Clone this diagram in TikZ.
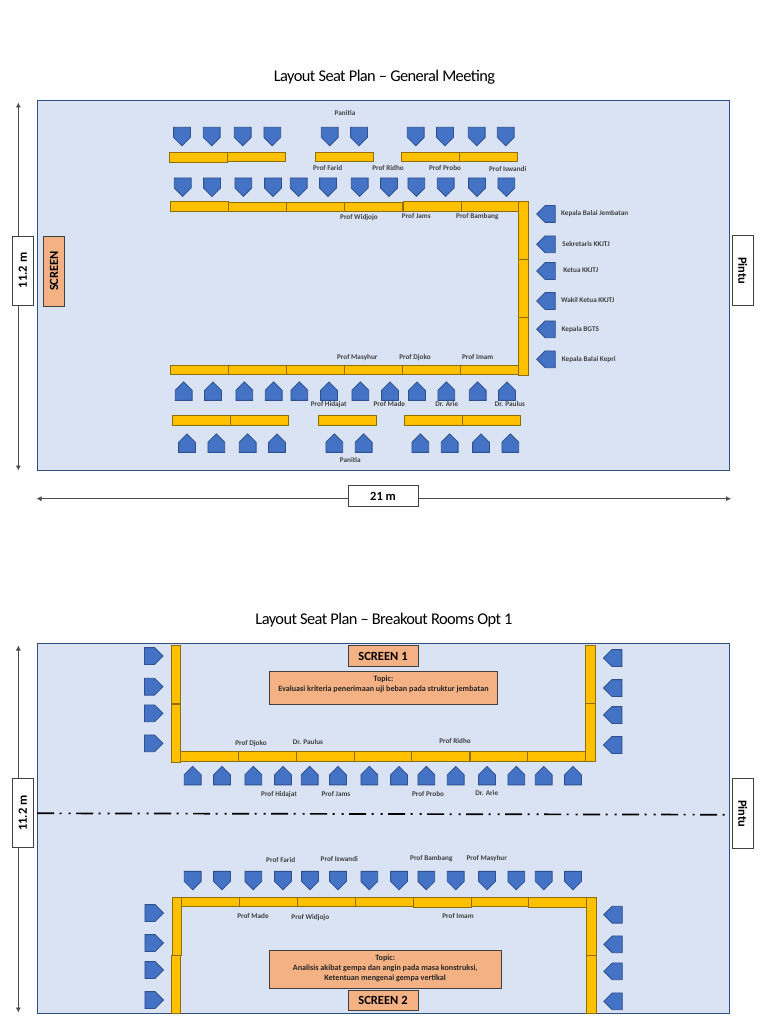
\documentclass[tikz,border=0pt]{standalone}
\usepackage{fontspec}
\setmainfont{Carlito}
\newfontfamily\headingfont[LetterSpace=-3.5]{Carlito}
\usetikzlibrary{shapes.arrows,arrows.meta}

\definecolor{roomfill}{HTML}{DAE3F3}
\definecolor{roomedge}{HTML}{2F4F80}
\definecolor{tablefill}{HTML}{FFC000}
\definecolor{tableedge}{HTML}{8F6E08}
\definecolor{seatfill}{HTML}{4472C4}
\definecolor{seatedge}{HTML}{2F528F}
\definecolor{screenfill}{HTML}{F4B183}

\tikzset{
  room/.style={draw=roomedge, fill=roomfill, line width=0.9pt, minimum width=692pt, minimum height=370pt, inner sep=0pt},
  tableh/.style={draw=tableedge, fill=tablefill, line width=0.8pt, minimum width=58pt, minimum height=9.5pt, inner sep=0pt},
  tablev/.style={draw=tableedge, fill=tablefill, line width=0.8pt, minimum width=9.5pt, minimum height=58pt, inner sep=0pt},
  seat/.style={single arrow, single arrow head extend=0pt, draw=seatedge, fill=seatfill, line width=0.8pt, minimum width=0pt, minimum height=18.5pt},
  seatup/.style={seat, shape border rotate=90, inner xsep=8pt, inner ysep=0pt, yshift=-4.3pt},
  seatdown/.style={seat, shape border rotate=270, inner xsep=8pt, inner ysep=0pt, yshift=4.3pt},
  seatleft/.style={seat, shape border rotate=180, inner xsep=0pt, inner ysep=8pt, xshift=4.5pt},
  seatright/.style={seat, shape border rotate=0, inner xsep=0pt, inner ysep=8pt, xshift=-4.5pt},
  person/.style={font=\fontsize{7.2}{8}\selectfont\bfseries, text=black!75, inner sep=0pt, text height=5pt, text depth=1.5pt},
  heading/.style={font=\headingfont\fontsize{16.4}{18}\selectfont, inner sep=0pt},
  box/.style={draw=black!75, fill=white, line width=1pt, inner sep=0pt, font=\fontsize{12.5}{14}\selectfont\bfseries},
  screenbox/.style={box, fill=screenfill},
  topic/.style={screenbox, anchor=north},
  topictext/.style={font=\fontsize{8.1}{10}\selectfont\bfseries, align=center, text=black!85, inner sep=0pt},
  sideways/.style={font=\fontsize{12.5}{14}\selectfont\bfseries, inner sep=0pt},
  span/.style={{Latex[length=5pt,width=5pt]}-{Latex[length=5pt,width=5pt]}, draw=black!70, line width=0.7pt},
  divider/.style={line width=1.7pt, dash pattern=on 17pt off 5.5pt on 2pt off 7pt on 2pt off 5.5pt}
}

\begin{document}
\begin{tikzpicture}[x=1pt, y=-1pt]
    \useasboundingbox (0, 0) rectangle (768, 1024);

    \node[heading] (title1) at (384.5, 77.5) {Layout Seat Plan – General Meeting};
    \node[room] (room1) at (383, 285.2) {};

    \node[tableh] (ta1) at (198.3, 157.6) {};
    \node[tableh] (ta2) at (256.7, 157) {};
    \node[tableh] (ta3) at (344, 157) {};
    \node[tableh] (ta4) at (430.3, 157) {};
    \node[tableh] (ta5) at (488.2, 157) {};

    \node[tableh] (tb1) at (199.8, 206.2) {};
    \node[tableh] (tb2) at (257.7, 206.7) {};
    \node[tableh] (tb3) at (315.5, 206.7) {};
    \node[tableh] (tb4) at (373.5, 207) {};
    \node[tableh] (tb5) at (432, 206.5) {};
    \node[tableh] (tb6) at (490, 206.5) {};

    \node[tablev] (tv1) at (523.5, 230.4) {};
    \node[tablev] (tv2) at (523.5, 288) {};
    \node[tablev] (tv3) at (523.5, 346.2) {};

    \node[tableh] (tc1) at (199.3, 370) {};
    \node[tableh] (tc2) at (257.7, 370) {};
    \node[tableh] (tc3) at (315.7, 370) {};
    \node[tableh] (tc4) at (373.7, 370) {};
    \node[tableh] (tc5) at (431.5, 370) {};
    \node[tableh] (tc6) at (489.3, 370) {};

    \node[tableh] (td1) at (201.3, 420.5) {};
    \node[tableh] (td2) at (259.7, 420.5) {};
    \node[tableh] (td3) at (347, 420.5) {};
    \node[tableh] (td4) at (433.5, 420.5) {};
    \node[tableh] (td5) at (491.3, 420.5) {};

    \node[seatdown] (a1) at (182, 136.7) {};
    \node[seatdown] (a2) at (211.7, 136.7) {};
    \node[seatdown] (a3) at (242.7, 136.7) {};
    \node[seatdown] (a4) at (272.3, 136.7) {};
    \node[seatdown] (a5) at (329.7, 136.7) {};
    \node[seatdown] (a6) at (359, 136.7) {};
    \node[seatdown] (a7) at (415.7, 136.7) {};
    \node[seatdown] (a8) at (445, 136.7) {};
    \node[seatdown] (a9) at (476.7, 136.7) {};
    \node[seatdown] (a10) at (505.7, 136.7) {};

    \node[seatdown] (b1) at (182.7, 187.3) {};
    \node[seatdown] (b2) at (212, 187.3) {};
    \node[seatdown] (b3) at (243.3, 187.3) {};
    \node[seatdown] (b4) at (273, 187.3) {};
    \node[seatdown] (b5) at (298.7, 187.3) {};
    \node[seatdown] (b6) at (328, 187.3) {};
    \node[seatdown] (b7) at (359.7, 187.3) {};
    \node[seatdown] (b8) at (389, 187.3) {};
    \node[seatdown] (b9) at (416.3, 187.3) {};
    \node[seatdown] (b10) at (445.7, 187.3) {};
    \node[seatdown] (b11) at (477, 187.3) {};
    \node[seatdown] (b12) at (506.3, 187.3) {};

    \node[seatup] (c1) at (183.7, 391) {};
    \node[seatup] (c2) at (213, 391) {};
    \node[seatup] (c3) at (244.3, 391) {};
    \node[seatup] (c4) at (273.7, 391) {};
    \node[seatup] (c5) at (299.3, 391) {};
    \node[seatup] (c6) at (329, 391) {};
    \node[seatup] (c7) at (360.3, 391) {};
    \node[seatup] (c8) at (390, 391) {};
    \node[seatup] (c9) at (417, 391) {};
    \node[seatup] (c10) at (446.3, 391) {};
    \node[seatup] (c11) at (477.7, 391) {};
    \node[seatup] (c12) at (507, 391) {};

    \node[seatup] (d1) at (187, 443) {};
    \node[seatup] (d2) at (216.3, 443) {};
    \node[seatup] (d3) at (247.7, 443) {};
    \node[seatup] (d4) at (277, 443) {};
    \node[seatup] (d5) at (334.3, 443) {};
    \node[seatup] (d6) at (363.7, 443) {};
    \node[seatup] (d7) at (420.3, 443) {};
    \node[seatup] (d8) at (449.7, 443) {};
    \node[seatup] (d9) at (481, 443) {};
    \node[seatup] (d10) at (510.3, 443) {};

    \node[seatleft] (e1) at (545.7, 214) {};
    \node[seatleft] (e2) at (545.7, 244.3) {};
    \node[seatleft] (e3) at (545.7, 271) {};
    \node[seatleft] (e4) at (545.7, 301) {};
    \node[seatleft] (e5) at (545.7, 329.3) {};
    \node[seatleft] (e6) at (545.7, 359.3) {};

    \node[person] (p1) at (345, 113.7) {Panitia};
    \node[person] (p2) at (327.7, 168.3) {Prof Farid};
    \node[person] (p3) at (388, 168.5) {Prof Ridho};
    \node[person] (p4) at (445, 168.3) {Prof Probo};
    \node[person] (p5) at (507.7, 169.3) {Prof Iswandi};
    \node[person] (p6) at (359, 218) {Prof Widjojo};
    \node[person] (p7) at (416.3, 217) {Prof Jams};
    \node[person] (p8) at (477.3, 217) {Prof Bambang};
    \node[person] (p9) at (594.7, 214) {Kepala Balai Jembatan};
    \node[person] (p10) at (586, 244.3) {Sekretaris KKJTJ};
    \node[person] (p11) at (580.7, 270.7) {Ketua KKJTJ};
    \node[person] (p12) at (587.7, 301) {Wakil Ketua KKJTJ};
    \node[person] (p13) at (580.3, 329.3) {Kepala BGTS};
    \node[person] (p14) at (588.7, 359.3) {Kepala Balai Kepri};
    \node[person] (p15) at (357.3, 357.7) {Prof Masyhur};
    \node[person] (p16) at (415, 357.7) {Prof Djoko};
    \node[person] (p17) at (477.7, 357.7) {Prof Imam};
    \node[person] (p18) at (328.7, 405) {Prof Hidajat};
    \node[person] (p19) at (389.3, 405) {Prof Made};
    \node[person] (p20) at (446.7, 405) {Dr. Arie};
    \node[person] (p21) at (510, 405) {Dr. Paulus};
    \node[person] (p22) at (350.3, 460.7) {Panitia};

    \coordinate (h1top) at (18.3, 102.5);
    \coordinate (h1bot) at (18.3, 470.5);
    \coordinate (w1left) at (36.5, 498.7);
    \coordinate (w1right) at (731, 498.7);
    \draw[span] (h1top) -- (h1bot);
    \draw[span] (w1left) -- (w1right);

    \node[box, minimum width=20.7pt, minimum height=69pt] (height1) at (22.7, 270.5) {};
    \node[sideways, rotate=90] (height1t) at (height1) {11.2 m};
    \node[screenbox, minimum width=20.6pt, minimum height=70pt] (screen0) at (54, 271) {};
    \node[sideways, rotate=90] (screen0t) at (screen0) {SCREEN};
    \node[box, minimum width=21.3pt, minimum height=69.7pt] (door1) at (742.7, 270.8) {};
    \node[sideways, rotate=-90] (door1t) at (door1) {Pintu};
    \node[box, minimum width=70pt, minimum height=20.6pt] (width1) at (383, 496) {21 m};

    \node[heading] (title2) at (384, 620.3) {Layout Seat Plan – Breakout Rooms Opt 1};
    \node[room] (room2) at (383, 828) {};

    \node[tablev] (fa1) at (176, 674.8) {};
    \node[tablev] (fa2) at (176, 733.2) {};
    \node[tableh] (fb1) at (209.4, 756.5) {};
    \node[tableh] (fb2) at (267.2, 756.5) {};
    \node[tableh] (fb3) at (325.3, 756.5) {};
    \node[tableh] (fb4) at (383, 756.5) {};
    \node[tableh] (fb5) at (440.8, 756.5) {};
    \node[tableh] (fb6) at (499, 756.5) {};
    \node[tableh] (fb7) at (556.8, 756.5) {};
    \node[tablev] (fc1) at (590.2, 674.7) {};
    \node[tablev] (fc2) at (590.2, 732.5) {};

    \node[tableh] (ga1) at (210.3, 902) {};
    \node[tableh] (ga2) at (268, 902) {};
    \node[tableh] (ga3) at (326.2, 902) {};
    \node[tableh] (ga4) at (384, 902) {};
    \node[tableh] (ga5) at (442, 902.5) {};
    \node[tableh] (ga6) at (500, 902) {};
    \node[tableh] (ga7) at (557.7, 902.2) {};
    \node[tablev] (gb1) at (177, 926.6) {};
    \node[tablev] (gb2) at (176, 984) {};
    \node[tablev] (gc1) at (591.2, 926.2) {};
    \node[tablev] (gc2) at (591.2, 984) {};

    \node[seatright] (h1) at (154, 656) {};
    \node[seatright] (h2) at (154, 686.7) {};
    \node[seatright] (h3) at (154, 713.3) {};
    \node[seatright] (h4) at (154, 743.3) {};
    \node[seatleft] (i1) at (612.3, 658) {};
    \node[seatleft] (i2) at (612.3, 688) {};
    \node[seatleft] (i3) at (612.3, 715) {};
    \node[seatleft] (i4) at (612.3, 745) {};

    \node[seatup] (j1) at (192.7, 775.5) {};
    \node[seatup] (j2) at (222, 775.5) {};
    \node[seatup] (j3) at (253.3, 775.5) {};
    \node[seatup] (j4) at (283, 775.5) {};
    \node[seatup] (j5) at (309.7, 775.5) {};
    \node[seatup] (j6) at (338, 775.5) {};
    \node[seatup] (j7) at (369.3, 775.5) {};
    \node[seatup] (j8) at (399, 775.5) {};
    \node[seatup] (j9) at (426.3, 775.5) {};
    \node[seatup] (j10) at (455.7, 775.5) {};
    \node[seatup] (j11) at (487, 775.5) {};
    \node[seatup] (j12) at (516.3, 775.5) {};
    \node[seatup] (j13) at (543.7, 775.5) {};
    \node[seatup] (j14) at (573, 775.5) {};

    \node[seatdown] (k1) at (192.7, 880.7) {};
    \node[seatdown] (k2) at (222, 880.7) {};
    \node[seatdown] (k3) at (253.3, 880.7) {};
    \node[seatdown] (k4) at (283, 880.7) {};
    \node[seatdown] (k5) at (310, 880.7) {};
    \node[seatdown] (k6) at (338, 880.7) {};
    \node[seatdown] (k7) at (369.3, 880.7) {};
    \node[seatdown] (k8) at (399, 880.7) {};
    \node[seatdown] (k9) at (426.3, 880.7) {};
    \node[seatdown] (k10) at (455.7, 880.7) {};
    \node[seatdown] (k11) at (487, 880.7) {};
    \node[seatdown] (k12) at (516.3, 880.7) {};
    \node[seatdown] (k13) at (543.7, 880.7) {};
    \node[seatdown] (k14) at (573, 880.7) {};

    \node[seatright] (l1) at (154.5, 913) {};
    \node[seatright] (l2) at (154.5, 943) {};
    \node[seatright] (l3) at (154.5, 970) {};
    \node[seatright] (l4) at (154.5, 1000) {};
    \node[seatleft] (m1) at (612.7, 914.7) {};
    \node[seatleft] (m2) at (612.7, 944.3) {};
    \node[seatleft] (m3) at (612.7, 971.3) {};
    \node[seatleft] (m4) at (612.7, 1001.3) {};

    \node[person] (q1) at (251, 743.7) {Prof Djoko};
    \node[person] (q2) at (308, 743) {Dr. Paulus};
    \node[person] (q3) at (455, 742) {Prof Ridho};
    \node[person] (q4) at (279, 794.3) {Prof Hidajat};
    \node[person] (q5) at (336, 795) {Prof Jams};
    \node[person] (q6) at (428, 794.7) {Prof Probo};
    \node[person] (q7) at (486.7, 793.7) {Dr. Arie};
    \node[person] (q8) at (280.7, 861) {Prof Farid};
    \node[person] (q9) at (339.3, 860) {Prof Iswandi};
    \node[person] (q10) at (431.3, 859) {Prof Bambang};
    \node[person] (q11) at (486.7, 859) {Prof Masyhur};
    \node[person] (q12) at (253, 916.7) {Prof Made};
    \node[person] (q13) at (310.3, 917.7) {Prof Widjojo};
    \node[person] (q14) at (458, 916.7) {Prof Imam};

    \node[screenbox, minimum width=70pt, minimum height=21.5pt] (screen1) at (383, 656.2) {SCREEN 1};
    \node[topic, minimum width=228.4pt, minimum height=33.6pt] (topic1) at (383.5, 670.7) {};
    \node[topictext] (topic1t) at (383.5, 684) {Topic:\\Evaluasi kriteria penerimaan uji beban pada struktur jembatan};
    \node[topic, minimum width=231.7pt, minimum height=38.6pt] (topic2) at (385.2, 949.7) {};
    \node[topictext] (topic2t) at (385.2, 968) {Topic:\\Analisis akibat gempa dan angin pada masa konstruksi,\\Ketentuan mengenai gempa vertikal};
    \node[screenbox, minimum width=70pt, minimum height=20.4pt] (screen2) at (383, 1000.5) {SCREEN 2};

    \coordinate (splitl) at (37, 813.3);
    \coordinate (splitr) at (725, 814.7);
    \draw[divider] (splitl) -- (splitr);

    \coordinate (h2top) at (18.3, 645.5);
    \coordinate (h2bot) at (18.3, 1012.5);
    \draw[span] (h2top) -- (h2bot);

    \node[box, minimum width=20.7pt, minimum height=68.7pt] (height2) at (22.7, 813.3) {};
    \node[sideways, rotate=90] (height2t) at (height2) {11.2 m};
    \node[box, minimum width=21.3pt, minimum height=69.7pt] (door2) at (742.7, 813.8) {};
    \node[sideways, rotate=-90] (door2t) at (door2) {Pintu};
\end{tikzpicture}
\end{document}
